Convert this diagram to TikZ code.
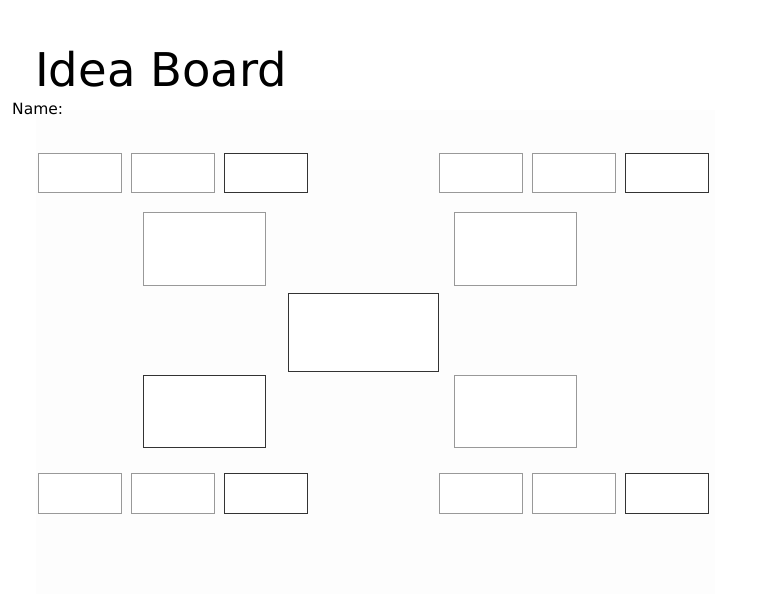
\documentclass[tikz,border=0pt]{standalone}
\usepackage{fontspec}
\setmainfont{DejaVu Sans}
\begin{document}
\begin{tikzpicture}[x=1pt,y=-1pt,
  lightbox/.style={draw=black!40,line width=1pt,fill=white},
  darkbox/.style={draw=black!80,line width=1pt,fill=white}]
\useasboundingbox (0,0) rectangle (768,594);
\fill[white] (0,0) rectangle (768,594);
\fill[black!0.8] (36,110) rectangle (715,594);
\node[anchor=base west,inner sep=0pt,font=\fontsize{46.5}{52}\selectfont] (title) at (35,86) {Idea Board};
\node[anchor=base west,inner sep=0pt,font=\fontsize{15.5}{17}\selectfont] (name) at (12,114) {Name:};
% top rows
\draw[lightbox] (38,153) rectangle (121,192) coordinate (t1);
\draw[lightbox] (131,153) rectangle (214,192) coordinate (t2);
\draw[darkbox] (224,153) rectangle (307,192) coordinate (t3);
\draw[lightbox] (439,153) rectangle (522,192) coordinate (t4);
\draw[lightbox] (532,153) rectangle (615,192) coordinate (t5);
\draw[darkbox] (625,153) rectangle (708,192) coordinate (t6);
% mid boxes
\draw[lightbox] (143,212) rectangle (265,285) coordinate (m1);
\draw[lightbox] (454,212) rectangle (576,285) coordinate (m2);
\draw[darkbox] (288,293) rectangle (438,371) coordinate (c);
\draw[darkbox] (143,375) rectangle (265,447) coordinate (m3);
\draw[lightbox] (454,375) rectangle (576,447) coordinate (m4);
% bottom rows
\draw[lightbox] (38,473) rectangle (121,513) coordinate (b1);
\draw[lightbox] (131,473) rectangle (214,513) coordinate (b2);
\draw[darkbox] (224,473) rectangle (307,513) coordinate (b3);
\draw[lightbox] (439,473) rectangle (522,513) coordinate (b4);
\draw[lightbox] (532,473) rectangle (615,513) coordinate (b5);
\draw[darkbox] (625,473) rectangle (708,513) coordinate (b6);
\end{tikzpicture}
\end{document}
